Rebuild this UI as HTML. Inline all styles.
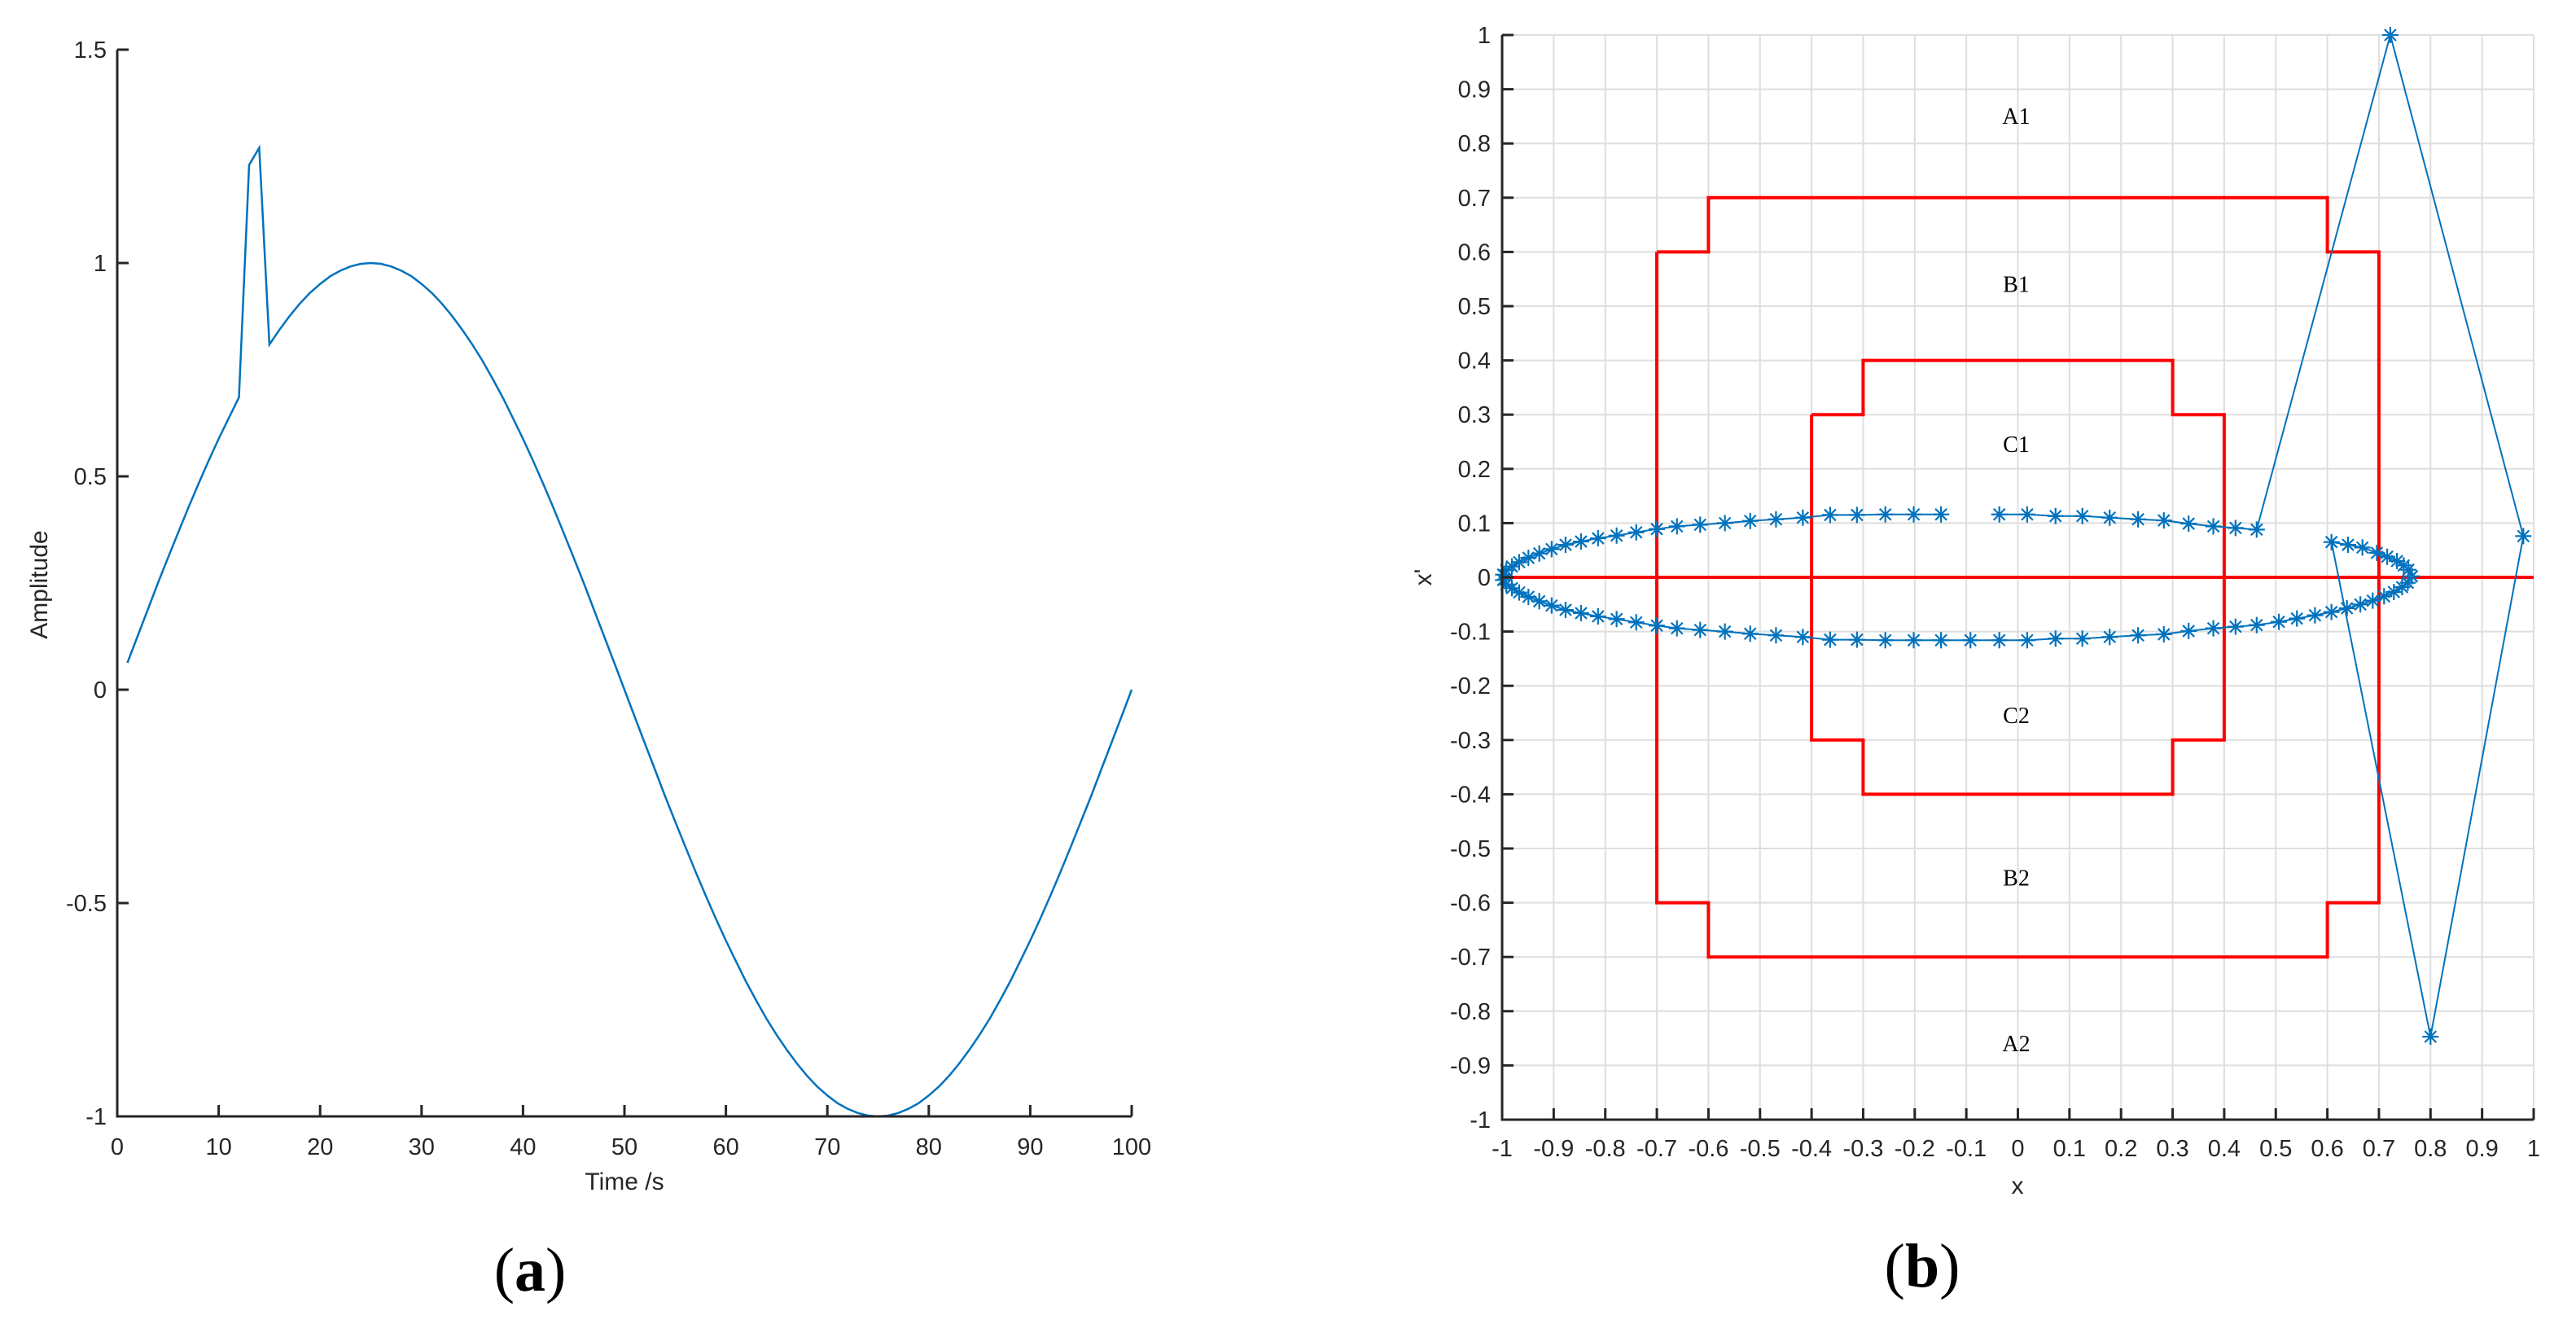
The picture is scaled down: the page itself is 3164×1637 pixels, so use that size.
<!DOCTYPE html>
<html><head><meta charset="utf-8"><style>
html,body{margin:0;padding:0;background:#fff;}
svg{display:block;font-family:"Liberation Sans",Arial,sans-serif;}
</style></head><body>
<svg id="fig" width="3164" height="1637" viewBox="0 0 3164 1637" xmlns="http://www.w3.org/2000/svg">
<g id="pa"></g>
<g id="pb"></g>
<text x="651" y="1585" font-family="Liberation Serif,serif" font-size="76" text-anchor="middle" fill="#000">(<tspan font-weight="bold">a</tspan>)</text>
<text x="2361" y="1580" font-family="Liberation Serif,serif" font-size="76" text-anchor="middle" fill="#000">(<tspan font-weight="bold">b</tspan>)</text>
</svg>
<script>
// ---- Panel (a) data ----
const aTime = [1,2,3,4,5,6,7,8,9,10,11,12,13,14,15,16,17,18,19,20,21,22,23,24,25,26,27,28,29,30,31,32,33,34,35,36,37,38,39,40,41,42,43,44,45,46,47,48,49,50,51,52,53,54,55,56,57,58,59,60,61,62,63,64,65,66,67,68,69,70,71,72,73,74,75,76,77,78,79,80,81,82,83,84,85,86,87,88,89,90,91,92,93,94,95,96,97,98,99,100];
const aAmp = [.063,.125,.187,.249,.309,.368,.426,.482,.536,.588,.637,.685,1.23,1.27,.809,.844,.876,.905,.930,.951,.969,.982,.992,.998,1,.998,.992,.982,.969,.951,.930,.905,.876,.844,.809,.771,.729,.685,.637,.588,.536,.482,.426,.368,.309,.249,.187,.125,.063,0,
-.063,-.125,-.187,-.249,-.309,-.368,-.426,-.482,-.536,-.588,-.637,-.685,-.729,-.771,-.809,-.844,-.876,-.905,-.930,-.951,-.969,-.982,-.992,-.998,-1,-.998,-.992,-.982,-.969,-.951,-.930,-.905,-.876,-.844,-.809,-.771,-.729,-.685,-.637,-.588,-.536,-.482,-.426,-.368,-.309,-.249,-.187,-.125,-.063,0];
const aXTicks = [0,10,20,30,40,50,60,70,80,90,100];
const aYTicks = [-1,-0.5,0,0.5,1,1.5];
const aYTickLabels = ["-1","-0.5","0","0.5","1","1.5"];

// ---- Panel (b) data ----
const bTrajX = [-0.036,0.018,0.073,0.125,0.178,0.233,0.283,0.331,0.379,0.422,0.463,
 0.722,0.98,0.80,0.608,
 0.640,0.668,0.696,0.716,0.735,0.748,0.757,0.764,
 0.756,0.745,0.729,0.710,0.688,0.664,0.638,0.608,0.576,0.541,0.506,0.463,0.422,0.379,0.331,0.283,0.233,0.178,0.125,0.073,0.018,-0.036,-0.092,-0.149,-0.202,-0.257,-0.312,-0.364,-0.417,-0.469,-0.519,-0.568,-0.616,-0.661,-0.700,-0.740,-0.778,-0.814,-0.847,-0.877,-0.904,-0.928,-0.949,-0.967,-0.981,-0.992,-0.998,
 -0.998,-0.992,-0.981,-0.967,-0.949,-0.928,-0.904,-0.877,-0.847,-0.814,-0.778,-0.740,-0.700,-0.661,-0.616,-0.568,-0.519,-0.469,-0.417,-0.364,-0.312,-0.257,-0.202,-0.149];
const bTrajY = [0.116,0.116,0.113,0.113,0.110,0.107,0.105,0.099,0.094,0.091,0.088,
 1.0,0.076,-0.847,0.065,
 0.060,0.055,0.045,0.038,0.030,0.022,0.014,0.002,
 -0.010,-0.018,-0.027,-0.035,-0.043,-0.050,-0.057,-0.064,-0.070,-0.076,-0.082,-0.088,-0.091,-0.094,-0.099,-0.105,-0.107,-0.110,-0.113,-0.113,-0.116,-0.116,-0.116,-0.116,-0.116,-0.116,-0.115,-0.115,-0.110,-0.107,-0.104,-0.100,-0.097,-0.094,-0.089,-0.083,-0.077,-0.072,-0.066,-0.060,-0.052,-0.044,-0.036,-0.028,-0.020,-0.013,-0.005,
 0.005,0.013,0.020,0.028,0.036,0.044,0.052,0.060,0.066,0.072,0.077,0.083,0.089,0.094,0.097,0.100,0.104,0.107,0.110,0.115,0.115,0.116,0.116,0.116];
const bOuterX = [-0.7,-0.6,-0.6,0.6,0.6,0.7,0.7,0.6,0.6,-0.6,-0.6,-0.7,-0.7];
const bOuterY = [0.6,0.6,0.7,0.7,0.6,0.6,-0.6,-0.6,-0.7,-0.7,-0.6,-0.6,0.6];
const bInnerX = [-0.4,-0.3,-0.3,0.3,0.3,0.4,0.4,0.3,0.3,-0.3,-0.3,-0.4,-0.4];
const bInnerY = [0.3,0.3,0.4,0.4,0.3,0.3,-0.3,-0.3,-0.4,-0.4,-0.3,-0.3,0.3];
const bTicks = [-1,-0.9,-0.8,-0.7,-0.6,-0.5,-0.4,-0.3,-0.2,-0.1,0,0.1,0.2,0.3,0.4,0.5,0.6,0.7,0.8,0.9,1];
const bTickLabels = ["-1","-0.9","-0.8","-0.7","-0.6","-0.5","-0.4","-0.3","-0.2","-0.1","0","0.1","0.2","0.3","0.4","0.5","0.6","0.7","0.8","0.9","1"];
const bRegionNames = ["A1","B1","C1","C2","B2","A2"];
const bRegionY = [0.85,0.54,0.245,-0.255,-0.555,-0.86];

const NS = "http://www.w3.org/2000/svg";
function mk(parent, tag, attrs){
  const e = document.createElementNS(NS, tag);
  for (const k in attrs) e.setAttribute(k, attrs[k]);
  parent.appendChild(e);
  return e;
}
const AX = "#262626", BLUE = "#0072BD";

// ---- Panel (a) ----
(function(){
  const g = document.getElementById('pa');
  const x = v => 144 + (v - 0) / 100 * (1390 - 144);
  const y = v => 1371 - (v + 1) / 2.5 * (1371 - 61);
  let d = aTime.map((t,i)=>(i?'L':'M')+x(t).toFixed(1)+' '+y(aAmp[i]).toFixed(1)).join(' ');
  const line = mk(g,'path',{d:d,fill:'none',stroke:BLUE,'stroke-width':2.5});
  
  
  const ax = mk(g,'path',{d:`M144 61 L144 1371 L1390 1371`,fill:'none',stroke:AX,'stroke-width':3});
  
  
  aXTicks.forEach(t=>{
    mk(g,'line',{x1:x(t),x2:x(t),y1:1371,y2:1357,stroke:AX,'stroke-width':3});
    const tx = mk(g,'text',{x:x(t),y:1418,'font-size':29,'text-anchor':'middle',fill:AX});
    tx.textContent = t;
    
    
  });
  aYTicks.forEach((t,i)=>{
    mk(g,'line',{x1:144,x2:158,y1:y(t),y2:y(t),stroke:AX,'stroke-width':3});
    const tx = mk(g,'text',{x:131,y:y(t)+10,'font-size':29,'text-anchor':'end',fill:AX});
    tx.textContent = aYTickLabels[i];
    
    
  });
  const xt = mk(g,'text',{x:767,y:1461,'font-size':30,'text-anchor':'middle',fill:AX});
  xt.textContent = 'Time /s';
  
  
  const yt = mk(g,'text',{x:0,y:0,'font-size':30,'text-anchor':'middle',fill:AX,transform:'translate(58 718) rotate(-90)'});
  yt.textContent = 'Amplitude';
  
  
})();

// ---- Panel (b) ----
(function(){
  const g = document.getElementById('pb');
  const L=1845,R=3112,T=43,B=1375;
  const x = v => L + (v + 1) / 2 * (R - L);
  const y = v => B - (v + 1) / 2 * (B - T);
  bTicks.forEach(t=>{
    mk(g,'line',{x1:x(t),x2:x(t),y1:T,y2:B,stroke:'#dedede','stroke-width':2});
    mk(g,'line',{x1:L,x2:R,y1:y(t),y2:y(t),stroke:'#dedede','stroke-width':2});
  });
  const poly = (xs,ys)=>xs.map((v,i)=>(i?'L':'M')+x(v).toFixed(1)+' '+y(ys[i]).toFixed(1)).join(' ');
  const outer = mk(g,'path',{d:poly(bOuterX,bOuterY),fill:'none',stroke:'#ff0000','stroke-width':4});
  
  
  const inner = mk(g,'path',{d:poly(bInnerX,bInnerY),fill:'none',stroke:'#ff0000','stroke-width':4});
  
  
  const zl = mk(g,'line',{x1:x(-1),x2:x(1),y1:y(0),y2:y(0),stroke:'#ff0000','stroke-width':4});
  
  
  bRegionNames.forEach((n,i)=>{
    const t = mk(g,'text',{x:x(0)-2,y:y(bRegionY[i])+9,'font-size':28,'font-family':'Liberation Serif,serif','text-anchor':'middle',fill:'#000'});
    t.textContent = n;
    
    
  });
  const tr = mk(g,'path',{d:poly(bTrajX,bTrajY),fill:'none',stroke:BLUE,'stroke-width':2});
  
  
  bTrajX.forEach((v,i)=>{
    const cx=x(v), cy=y(bTrajY[i]), s=10, s2=7;
    const m = mk(g,'path',{d:`M${cx-s} ${cy}L${cx+s} ${cy}M${cx} ${cy-s}L${cx} ${cy+s}M${cx-s2} ${cy-s2}L${cx+s2} ${cy+s2}M${cx-s2} ${cy+s2}L${cx+s2} ${cy-s2}`,stroke:BLUE,'stroke-width':2.2,fill:'none'});
    
    
  });
  const ax = mk(g,'path',{d:`M${L} ${T} L${L} ${B} L${R} ${B}`,fill:'none',stroke:AX,'stroke-width':3});
  
  
  bTicks.forEach((t,i)=>{
    mk(g,'line',{x1:x(t),x2:x(t),y1:B,y2:B-14,stroke:AX,'stroke-width':3});
    mk(g,'line',{x1:L,x2:L+14,y1:y(t),y2:y(t),stroke:AX,'stroke-width':3});
    const tx = mk(g,'text',{x:x(t),y:1420,'font-size':29,'text-anchor':'middle',fill:AX});
    tx.textContent = bTickLabels[i];
    
    
    const ty = mk(g,'text',{x:1831,y:y(t)+10,'font-size':29,'text-anchor':'end',fill:AX});
    ty.textContent = bTickLabels[i];
    
    
  });
  const xt = mk(g,'text',{x:2478,y:1466,'font-size':30,'text-anchor':'middle',fill:AX});
  xt.textContent = 'x';
  
  
  const yt = mk(g,'text',{x:0,y:0,'font-size':30,'text-anchor':'middle',fill:AX,transform:`translate(1758 ${y(0)}) rotate(-90)`});
  yt.textContent = "x'";
  
  
})();
</script>
</body></html>
